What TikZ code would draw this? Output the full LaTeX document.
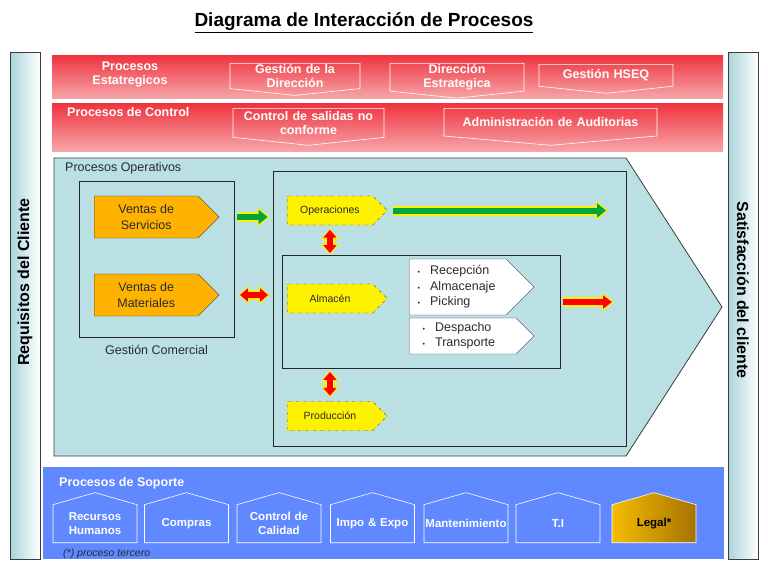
\documentclass[tikz,border=0pt]{standalone}
\usepackage{fontspec}
\setmainfont{Liberation Sans}
\usepackage{tikz}
\usetikzlibrary{shapes.symbols, arrows.meta, positioning, calc}
\definecolor{bandred}{RGB}{240,50,62}
\definecolor{bandpink}{RGB}{246,165,168}
\definecolor{bandblue}{RGB}{96,136,255}
\definecolor{opteal}{RGB}{186,224,227}
\definecolor{barcyan}{RGB}{168,212,218}
\definecolor{salesorange}{RGB}{255,178,0}
\definecolor{arrowgreen}{RGB}{0,165,60}
\definecolor{legalgold}{RGB}{246,188,0}
\definecolor{legalbrown}{RGB}{165,115,0}
\definecolor{darktext}{RGB}{40,44,48}
\definecolor{edgegray}{RGB}{60,60,60}
\newcommand{\bul}{{\fontsize{7}{7}\selectfont\textbullet}\hspace{10pt}}

\begin{document}
\begin{tikzpicture}[x=1pt, y=-1pt,
        % Styles
        sidebar/.style={rectangle, draw=edgegray, left color=barcyan, right color=white,
                       minimum width=30pt, minimum height=507pt},
        sidelabel/.style={font=\bfseries\fontsize{16}{18}\selectfont, text=black},
        redband/.style={rectangle, top color=bandred, bottom color=bandpink, minimum width=671pt},
        bandlabel/.style={font=\bfseries\fontsize{12.5}{14}\selectfont, text=white, align=center},
        chevron/.style={signal, signal to=south, signal pointer angle=168, draw=white, line width=0.6pt,
                       align=center, font=\bfseries\fontsize{12.5}{14}\selectfont, text=white, inner sep=1pt},
        house/.style={signal, signal to=north, signal pointer angle=148, draw=white, line width=0.6pt,
                     text width=81.5pt, minimum width=84pt, minimum height=50pt, align=center,
                     font=\bfseries\fontsize{11.5}{14}\selectfont, text=white, inner sep=1pt},
        sales/.style={signal, signal to=east, draw=edgegray, fill=salesorange, minimum width=125pt,
                     minimum height=42pt, align=center, font=\fontsize{12.5}{15.5}\selectfont, text=darktext},
        ops/.style={signal, signal to=east, draw=edgegray, dash dot, fill=yellow, minimum width=100pt,
                   minimum height=29pt, font=\fontsize{10.5}{12}\selectfont, text=darktext},
        tasks/.style={signal, signal to=east, draw=edgegray, fill=white, minimum width=125pt,
                     text width=80pt, inner xsep=4pt, align=left, font=\fontsize{12.5}{15.5}\selectfont, text=darktext},
        boxframe/.style={rectangle, draw=black!85, line width=0.8pt},
        garrow/.style={draw=arrowgreen, line width=6pt, -{Triangle[length=9pt, width=14pt, sep=2pt]},
                      preaction={draw=yellow, line width=10pt, -{Triangle[length=12pt, width=19pt]}}},
        rarrow/.style={draw=red, line width=6pt, -{Triangle[length=9pt, width=13pt, sep=2pt]},
                      preaction={draw=yellow, line width=10pt, -{Triangle[length=12pt, width=18pt]}}},
        rdarrow/.style={draw=red, line width=6pt,
                       {Triangle[length=8pt, width=13pt, sep=1.5pt]}-{Triangle[length=8pt, width=13pt, sep=1.5pt]},
                       preaction={draw=yellow, line width=10pt,
                                  {Triangle[length=11pt, width=18pt]}-{Triangle[length=11pt, width=18pt]}}},
    ]
    \useasboundingbox (0,0) rectangle (768,576);

    % Title
    \node[font=\bfseries\fontsize{19}{22}\selectfont] (title) at (364,23) {\underline{Diagrama de Interacción de Procesos}};

    % Client bars
    \node[sidebar] (req) at (25,305.5) {};
    \node[sidelabel, rotate=90] (reqlabel) at (25,282) {Requisitos del Cliente};
    \node[sidebar] (sat) at (743,305.5) {};
    \node[sidelabel, rotate=-90] (satlabel) at (743,290) {Satisfacción del cliente};

    % Strategic and control processes
    \node[redband, minimum height=43pt] (strat) at (387.5,76.5) {};
    \node[redband, minimum height=48pt] (ctrl) at (387.5,127) {};
    \node[bandlabel] (stratlabel) at (130,74.5) {Procesos\\Estatregicos};
    \node[bandlabel, anchor=west, inner sep=0pt] (ctrllabel) at (67,112.5) {Procesos de Control};

    \node[chevron, anchor=north, text width=128pt, minimum width=130pt, minimum height=30pt] (gdir) at (295,63) {Gestión de la\\Dirección};
    \node[chevron, anchor=north, text width=132pt, minimum width=134pt, minimum height=30pt] (dest) at (457,63) {Dirección\\Estrategica};
    \node[chevron, anchor=north, text width=132pt, minimum width=134pt, minimum height=29pt] (hseq) at (606,64) {Gestión HSEQ};
    \node[chevron, anchor=north, text width=149pt, minimum width=151pt, minimum height=37pt] (csal) at (308.5,108) {Control de salidas no\\conforme};
    \node[chevron, anchor=north, text width=211pt, minimum width=213pt, minimum height=37pt, signal pointer angle=170] (audit) at (550.5,108) {Administración de Auditorias};

    % Operational processes
    \draw[draw=edgegray, fill=opteal, line width=0.8pt] (54,158) -- (626,158) -- (722,307) -- (626,456) -- (54,456) -- cycle;
    \node[anchor=west, inner sep=0pt, font=\fontsize{12.5}{14}\selectfont, text=darktext] (oplabel) at (65,168) {Procesos Operativos};

    \node[boxframe, minimum width=155pt, minimum height=156pt] (gc) at (156.5,259) {};
    \node[below=4pt of gc, font=\fontsize{12.5}{14}\selectfont, text=darktext] (gclabel) {Gestión Comercial};
    \node[sales, anchor=west] (vs) at (94,217) {Ventas de\\Servicios};
    \node[sales, anchor=west] (vm) at (94,295) {Ventas de\\Materiales};

    \node[boxframe, minimum width=353pt, minimum height=275pt] (opbox) at (449.5,308.5) {};
    \node[boxframe, minimum width=278pt, minimum height=113pt] (almbox) at (421,311.5) {};
    \node[ops, anchor=west] (op) at (287,210.5) {Operaciones};
    \node[ops, anchor=west] (alm) at (287,298.5) {Almacén};
    \node[ops, anchor=west] (prod) at (287,416) {Producción};
    \node[tasks, anchor=west, minimum height=56pt] (recv) at (409,287) {\bul Recepción\\\bul Almacenaje\\\bul Picking};
    \node[tasks, anchor=west, minimum height=36pt] (disp) at (409,336) {\bul Despacho\\\bul Transporte};

    \coordinate (opout) at (608,210.5);
    \coordinate (almout) at (614,302);

    % Flow arrows
    \draw[garrow, shorten <=18pt, shorten >=3pt] (vs.east) -- (vs.east -| opbox.west);
    \draw[rdarrow, shorten <=19pt, shorten >=3pt] (vm.east) -- (vm.east -| opbox.west);
    \draw[garrow, shorten <=6pt] (op.east) -- (opout);
    \draw[rdarrow, shorten <=3pt] (op.south) -- (op.south |- almbox.north);
    \draw[rdarrow, shorten <=2pt, shorten >=4pt] (prod.north |- almbox.south) -- (prod.north);
    \draw[rarrow, shorten <=3pt] (almbox.east |- almout) -- (almout);

    % Support processes
    \node[rectangle, fill=bandblue, minimum width=681pt, minimum height=92pt] (supp) at (383.5,513) {};
    \node[bandlabel, anchor=west, inner sep=0pt] (supplabel) at (59,483) {Procesos de Soporte};
    \node[house, anchor=south] (rrhh) at (95,543) {Recursos\\Humanos};
    \node[house, anchor=south] (comp) at (186.5,543) {Compras};
    \node[house, anchor=south] (calid) at (279,543) {Control de\\Calidad};
    \node[house, anchor=south] (impo) at (372.5,543) {Impo \& Expo};
    \node[house, anchor=south] (mant) at (466,543) {Mantenimiento};
    \node[house, anchor=south] (ti) at (558,543) {T.I};
    \node[house, anchor=south, left color=legalgold, right color=legalbrown, text=black] (legal) at (654,543) {Legal*};
    \node[anchor=west, inner sep=0pt, font=\itshape\fontsize{10.5}{12}\selectfont, text=darktext] (note) at (63,554) {(*) proceso tercero};

\end{tikzpicture}
\end{document}
